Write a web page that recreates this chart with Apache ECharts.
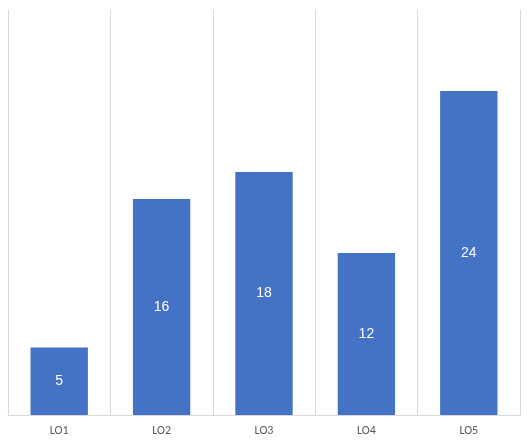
<!DOCTYPE html>
<html><head><meta charset="utf-8">
<script src="https://cdn.jsdelivr.net/npm/echarts@6/dist/echarts.min.js"></script>
<style>html,body{margin:0;padding:0;background:#fff}#c{width:528px;height:444px}</style>
</head><body><div id="c"></div>
<script>
const categories = ['LO1','LO2','LO3','LO4','LO5'];
const values = [5,16,18,12,24];
const chart = echarts.init(document.getElementById('c'));
chart.setOption({
  animation:false,
  grid:{left:8,right:8,top:10,bottom:29,containLabel:false},
  xAxis:{type:'category',data:categories,
    axisLine:{lineStyle:{color:'#d9d9d9'}},axisTick:{show:false},
    axisLabel:{color:'#595959',fontFamily:'Calibri, Carlito, Liberation Sans, sans-serif',fontSize:12,margin:10},
    splitLine:{show:true,interval:0,lineStyle:{color:'#d9d9d9'}}},
  yAxis:{type:'value',min:0,max:30,show:false,splitLine:{show:false}},
  series:[{type:'bar',data:values,barWidth:'56%',itemStyle:{color:'#4472c4'},
    label:{show:true,position:'inside',color:'#fff',fontSize:14,fontFamily:'Liberation Sans, sans-serif'}}]
});
</script></body></html>
